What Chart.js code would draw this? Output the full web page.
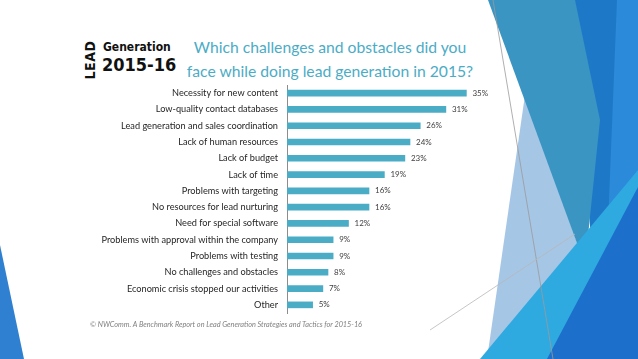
<!DOCTYPE html>
<html>
<head>
<meta charset="utf-8">
<script src="https://cdn.jsdelivr.net/npm/chart.js@4.4.1/dist/chart.umd.min.js"></script>
<style>
  html, body { margin: 0; padding: 0; background: #fff; }
  #slide { position: relative; width: 638px; height: 359px; overflow: hidden; background: #fff; font-family: "Lato", "Open Sans", sans-serif; }
  #deco { position: absolute; left: 0; top: 0; }
  #chartWrap { position: absolute; left: 0; top: 0; width: 638px; height: 359px; }
  .title { position: absolute; left: 130px; width: 400px; text-align: center; color: #4bacc6; font-size: 15.7px; line-height: 24px; top: 35px; white-space: nowrap; }
  .logo-lead { position: absolute; left: 71px; top: 52px; transform: rotate(-90deg); font-family: "DejaVu Sans Condensed", "DejaVu Sans", sans-serif; font-weight: bold; font-size: 14px; color: #111; letter-spacing: 0.5px; }
  .logo-gen { position: absolute; left: 103px; top: 40px; font-family: "DejaVu Sans Condensed", "DejaVu Sans", sans-serif; font-weight: bold; font-size: 12px; color: #111; }
  .logo-year { position: absolute; left: 102px; top: 54px; font-family: "DejaVu Sans Condensed", "DejaVu Sans", sans-serif; font-weight: bold; font-size: 18px; color: #111; }
  .footer { position: absolute; left: 90px; top: 320px; font-style: italic; font-size: 7.3px; color: #808080; }
</style>
</head>
<body>
<div id="slide">
  <svg id="deco" width="638" height="359">
    <polygon points="0,245 24,359 0,359" fill="#2f80d0"/>
    <polygon points="573,0 638,0 638,359 600,359" fill="#1e78c8"/>
    <polygon points="617,0 638,0 638,250 605,300" fill="#2b8ad9"/>
    <polygon points="525,95 585,265 560,359 487,359" fill="#a6c6e6"/>
    <polygon points="488,0 575,0 600,120 585,265" fill="#3a95c2"/>
    <polygon points="480,359 638,170 638,359" fill="#2eaae0"/>
    <polygon points="547,359 638,187 638,359" fill="#1c6fca"/>
    <line x1="493" y1="0" x2="553" y2="359" stroke="#9a9a9a" stroke-width="0.8"/>
    <line x1="430" y1="330" x2="575" y2="234" stroke="#b8b8b8" stroke-width="0.8"/>
  </svg>
  <div class="logo-lead">LEAD</div>
  <div class="logo-gen">Generation</div>
  <div class="logo-year">2015-16</div>
  <div class="title">Which challenges and obstacles did you<br>face while doing lead generation in 2015?</div>
  <div id="chartWrap"><canvas id="leadChart" width="638" height="359"></canvas></div>
  <div class="footer">© NWComm. A Benchmark Report on Lead Generation Strategies and Tactics for 2015-16</div>
</div>
<script>
const categories = [
    "Necessity for new content",
    "Low-quality contact databases",
    "Lead generation and sales coordination",
    "Lack of human resources",
    "Lack of budget",
    "Lack of time",
    "Problems with targeting",
    "No resources for lead nurturing",
    "Need for special software",
    "Problems with approval within the company",
    "Problems with testing",
    "No challenges and obstacles",
    "Economic crisis stopped our activities",
    "Other"
];

const shares = [35, 31, 26, 24, 23, 19, 16, 16, 12, 9, 9, 8, 7, 5];

// percent labels at the end of each bar
const barLabels = {
    id: "barLabels",
    afterDatasetsDraw(chart) {
        const ctx = chart.ctx;
        const meta = chart.getDatasetMeta(0);
        ctx.save();
        ctx.font = "8px Lato, sans-serif";
        ctx.fillStyle = "#404040";
        ctx.textBaseline = "middle";
        ctx.textAlign = "left";
        meta.data.forEach(function (bar, i) {
            ctx.fillText(shares[i] + "%", bar.x + 6, bar.y);
        });
        ctx.restore();
    }
};

new Chart(document.getElementById("leadChart"), {
    type: "bar",
    data: {
        labels: categories,
        datasets: [{
            data: shares,
            backgroundColor: "#4bacc6",
            barThickness: 6
        }]
    },
    options: {
        indexAxis: "y",
        responsive: false,
        animation: false,
        layout: {
            padding: { top: 85, bottom: 46, right: 146, left: 0 }
        },
        plugins: {
            legend: { display: false },
            tooltip: { enabled: false }
        },
        scales: {
            x: {
                display: false,
                min: 0,
                max: 40
            },
            y: {
                afterFit: function (scale) {
                    scale.width = 287;
                },
                grid: { display: false, drawTicks: false },
                border: { display: true, color: "#8c8c8c", width: 1 },
                ticks: {
                    padding: 9,
                    color: "#262626",
                    font: { family: "Lato", size: 9.2 }
                }
            }
        }
    },
    plugins: [barLabels]
});
</script>
</body>
</html>
